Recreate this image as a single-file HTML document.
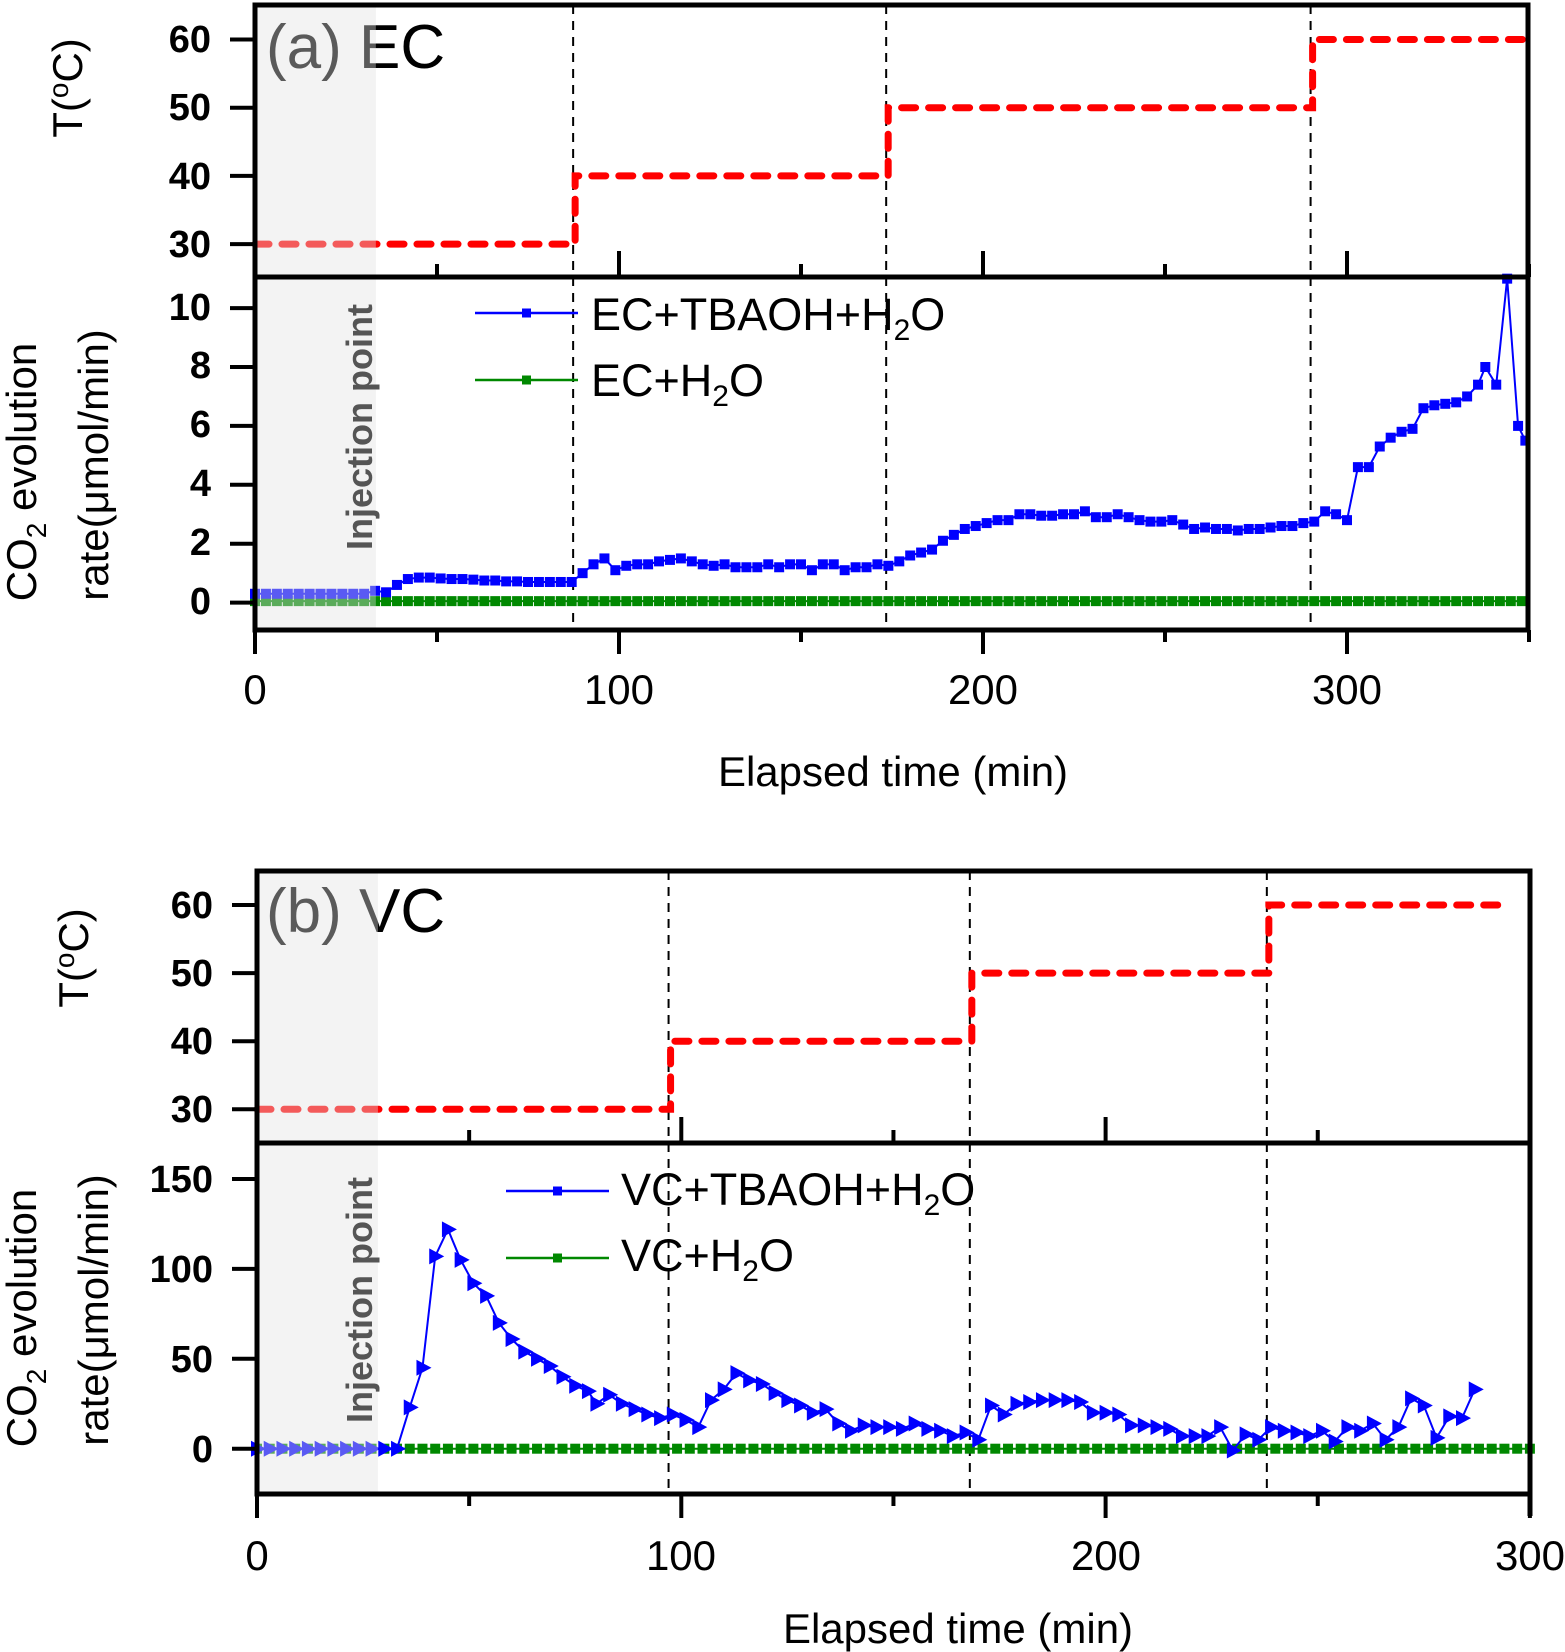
<!DOCTYPE html>
<html><head><meta charset="utf-8"><style>
html,body{margin:0;padding:0;background:#fff;}
svg{display:block;}
text{font-family:"Liberation Sans",Arial,sans-serif;}
.tb{font-weight:bold;font-size:38px;}
.tx{font-size:42px;}
.ax{font-size:42px;}
</style></head><body>
<svg id="s" width="1565" height="1652" viewBox="0 0 1565 1652" xmlns="http://www.w3.org/2000/svg">
<g id="data"></g>
<text x="266" y="68" font-size="62">(a) EC</text>
<g class="tb" text-anchor="end">
<text x="211" y="52">60</text><text x="211" y="120">50</text><text x="211" y="189">40</text><text x="211" y="257">30</text>
<text x="211" y="320">10</text><text x="211" y="378">8</text><text x="211" y="437">6</text><text x="211" y="496">4</text><text x="211" y="555">2</text><text x="211" y="614">0</text>
</g>
<g class="tx" text-anchor="middle">
<text x="255" y="704">0</text><text x="619" y="704">100</text><text x="983" y="704">200</text><text x="1347" y="704">300</text>
</g>
<text class="ax" x="893" y="786" text-anchor="middle">Elapsed time (min)</text>
<text class="ax" transform="translate(82,88) rotate(-90)" text-anchor="middle">T(<tspan font-size="28" dy="-14">o</tspan><tspan dy="14">C)</tspan></text>
<text class="ax" transform="translate(36,472) rotate(-90)" text-anchor="middle">CO<tspan font-size="28" dy="10">2</tspan><tspan dy="-10"> evolution</tspan></text>
<text class="ax" transform="translate(108,465) rotate(-90)" text-anchor="middle">rate(μmol/min)</text>
<text x="591" y="330" font-size="45">EC+TBAOH+H<tspan font-size="30" dy="10">2</tspan><tspan dy="-10">O</tspan></text>
<text x="591" y="396" font-size="45">EC+H<tspan font-size="30" dy="10">2</tspan><tspan dy="-10">O</tspan></text>
<text x="266" y="932" font-size="62">(b) VC</text>
<g class="tb" text-anchor="end">
<text x="213" y="918">60</text><text x="213" y="986">50</text><text x="213" y="1054">40</text><text x="213" y="1122">30</text>
<text x="213" y="1192">150</text><text x="213" y="1282">100</text><text x="213" y="1372">50</text><text x="213" y="1462">0</text>
</g>
<g class="tx" text-anchor="middle">
<text x="257" y="1570">0</text><text x="681" y="1570">100</text><text x="1106" y="1570">200</text><text x="1530" y="1570">300</text>
</g>
<text class="ax" x="958" y="1643" text-anchor="middle">Elapsed time (min)</text>
<text class="ax" transform="translate(88,958) rotate(-90)" text-anchor="middle">T(<tspan font-size="28" dy="-14">o</tspan><tspan dy="14">C)</tspan></text>
<text class="ax" transform="translate(36,1318) rotate(-90)" text-anchor="middle">CO<tspan font-size="28" dy="10">2</tspan><tspan dy="-10"> evolution</tspan></text>
<text class="ax" transform="translate(108,1310) rotate(-90)" text-anchor="middle">rate(μmol/min)</text>
<text x="621" y="1205" font-size="45">VC+TBAOH+H<tspan font-size="30" dy="10">2</tspan><tspan dy="-10">O</tspan></text>
<text x="621" y="1271" font-size="45">VC+H<tspan font-size="30" dy="10">2</tspan><tspan dy="-10">O</tspan></text>
<g id="over"></g>
<text transform="translate(372,427) rotate(-90)" text-anchor="middle" font-size="36" font-weight="bold" fill="#555">Injection point</text>
<text transform="translate(372,1300) rotate(-90)" text-anchor="middle" font-size="36" font-weight="bold" fill="#555">Injection point</text>
</svg>
<script>
var NS="http://www.w3.org/2000/svg";
function el(p,t,a){var e=document.createElementNS(NS,t);for(var k in a)e.setAttribute(k,a[k]);document.getElementById(p).appendChild(e);return e;}
function panel(P){
 var X=function(t){return P.x0+t*P.kx;};
 var YT=function(v){return P.t60+(60-v)*P.kt;};
 var YB=function(v){return P.b0-v*P.kb;};
 P.vl.forEach(function(t){el('data','line',{x1:X(t),x2:X(t),y1:P.top,y2:P.bot-6,stroke:'#000','stroke-width':2,'stroke-dasharray':'9,7'});});
 var d='M'+X(0)+','+YT(30);var temps=[30,40,50,60];
 for(var i=0;i<3;i++){d+=' L'+(X(P.vl[i])+2)+','+YT(temps[i])+' L'+(X(P.vl[i])+2)+','+YT(temps[i+1]);}
 d+=' L'+X(P.tend)+','+YT(60);
 el('data','path',{d:d,fill:'none',stroke:'#f00','stroke-width':7,'stroke-dasharray':'14,13','stroke-linecap':'round'});
 var gp='';for(var t=0;t<=P.gend;t+=P.gstep){gp+=(gp?' L':'M')+X(t)+','+YB(P.gv);}
 el('data','path',{d:gp,fill:'none',stroke:'#080','stroke-width':2});
 for(var t=0;t<=P.gend;t+=P.gstep){el('data','rect',{x:X(t)-5,y:YB(P.gv)-5,width:10,height:10,fill:'#080'});}
 var bp='';P.blue.forEach(function(p){bp+=(bp?' L':'M')+X(p[0])+','+YB(p[1]);});
 el('data','path',{d:bp,fill:'none',stroke:'#00f','stroke-width':2});
 P.blue.forEach(function(p){var x=X(p[0]),y=YB(p[1]);
  if(P.tri)el('data','path',{d:'M'+(x-6)+','+(y-8)+' L'+(x+9)+','+y+' L'+(x-6)+','+(y+8)+'Z',fill:'#00f'});
  else el('data','rect',{x:x-5,y:y-5,width:10,height:10,fill:'#00f'});});
 [[P.lg[0],'#00f'],[P.lg[1],'#080']].forEach(function(l){
  el('over','line',{x1:P.lgx,x2:P.lgx+103,y1:l[0],y2:l[0],stroke:l[1],'stroke-width':2.5});
  el('over','rect',{x:P.lgx+47,y:l[0]-4.5,width:9,height:9,fill:l[1]});});
 el('over','rect',{x:P.x0,y:P.top,width:P.shade*P.kx,height:P.bot-P.top,fill:'#e0e0e0','fill-opacity':0.4});
 var R=P.xR;
 el('over','rect',{x:P.x0,y:P.top,width:R-P.x0,height:P.bot-P.top,fill:'none',stroke:'#000','stroke-width':5});
 el('over','line',{x1:P.x0,x2:R,y1:P.mid,y2:P.mid,stroke:'#000','stroke-width':5});
 if(P.rext)el('over','line',{x1:R,x2:R,y1:P.bot,y2:P.bot+22,stroke:'#000','stroke-width':5});
 for(var t=0;t<=P.xmax;t+=50){var maj=(t%100==0);
  el('over','line',{x1:X(t),x2:X(t),y1:P.mid,y2:P.mid-(maj?26:13),stroke:'#000','stroke-width':4});
  el('over','line',{x1:X(t),x2:X(t),y1:P.bot,y2:P.bot+(maj?24:12),stroke:'#000','stroke-width':4});}
 [30,40,50,60].forEach(function(v){el('over','line',{x1:P.x0-25,x2:P.x0,y1:YT(v),y2:YT(v),stroke:'#000','stroke-width':4});});
 P.yt.forEach(function(v){el('over','line',{x1:P.x0-25,x2:P.x0,y1:YB(v),y2:YB(v),stroke:'#000','stroke-width':4});});
}
var ecB=[[0,.3],[3,.3],[6,.3],[9,.3],[12,.3],[15,.3],[18,.3],[21,.3],[24,.3],[27,.3],[30,.3],[33,.4],[36,.35],[39,.6],[42,.8],[45,.85],[48,.85],[51,.82],[54,.8],[57,.8],[60,.78],[63,.75],[66,.75],[69,.72],[72,.72],[75,.7],[78,.7],[81,.7],[84,.7],[87,.7],[90,1.0],[93,1.3],[96,1.5],[99,1.1],[102,1.25],[105,1.3],[108,1.3],[111,1.4],[114,1.45],[117,1.5],[120,1.4],[123,1.3],[126,1.25],[129,1.3],[132,1.2],[135,1.2],[138,1.2],[141,1.3],[144,1.2],[147,1.3],[150,1.3],[153,1.1],[156,1.3],[159,1.3],[162,1.1],[165,1.2],[168,1.2],[171,1.3],[174,1.25],[177,1.4],[180,1.6],[183,1.7],[186,1.8],[189,2.1],[192,2.3],[195,2.5],[198,2.6],[201,2.7],[204,2.8],[207,2.8],[210,3.0],[213,3.0],[216,2.95],[219,2.95],[222,3.0],[225,3.0],[228,3.1],[231,2.9],[234,2.9],[237,3.0],[240,2.9],[243,2.8],[246,2.75],[249,2.75],[252,2.8],[255,2.65],[258,2.5],[261,2.55],[264,2.5],[267,2.5],[270,2.45],[273,2.5],[276,2.5],[279,2.55],[282,2.6],[285,2.6],[288,2.7],[291,2.75],[294,3.1],[297,3.0],[300,2.8],[303,4.6],[306,4.6],[309,5.3],[312,5.6],[315,5.8],[318,5.9],[321,6.6],[324,6.7],[327,6.75],[330,6.8],[333,7.0],[336,7.4],[338,8.0],[341,7.4],[344,11],[347,6.0],[349,5.5]];
panel({x0:255,kx:3.64,xR:1528,xmax:350,t60:39.5,kt:6.82,b0:602.6,kb:29.45,top:5,mid:277,bot:630,
 vl:[87.4,173.4,290],tend:350,gend:350,gstep:3,gv:0.05,blue:ecB,tri:false,lg:[313,380],lgx:475,shade:33.2,yt:[0,2,4,6,8,10],rext:false});
var vcRaw=[[0,0],[3,0],[6,0],[9,0],[12,0],[15,0],[18,0],[21,0],[24,0],[27,0],[30,0],[33,0],[36,23],[39,45],[42,107],[45,122],[48,105],[51,92],[54,85],[57,70],[60,61],[63,54],[66,50],[69,46],[72,40],[75,35],[78,32],[80,25],[83,30],[86,25],[89,22],[92,19],[95,17],[98,19],[101,16],[104,12],[107,27],[110,33],[113,42],[116,38],[119,36],[122,31],[125,27],[128,24],[131,20],[134,22],[137,14],[140,10],[143,13],[146,12],[149,12],[152,11],[155,14],[158,11],[161,10],[164,7],[167,9],[170,5],[173,24],[176,19],[179,25],[182,26],[185,27],[188,27],[191,27],[194,26],[197,20],[200,20],[203,19],[206,13],[209,13],[212,12],[215,11],[218,7],[221,7],[224,7],[227,12],[230,-1],[233,8],[236,5],[239,12],[242,10],[245,9],[248,7],[251,10],[254,4],[257,12],[260,10],[263,14],[266,5],[269,12],[272,28],[275,24],[278,6],[281,18],[284,17],[287,33]];
panel({x0:257,kx:4.243,xR:1530,xmax:300,t60:905,kt:6.81,b0:1448.7,kb:1.798,top:871,mid:1143,bot:1494,
 vl:[97,168,238],tend:295,gend:300,gstep:3,gv:0,blue:vcRaw,tri:true,lg:[1191,1258],lgx:506,shade:28.5,yt:[0,50,100,150],rext:true});
</script>
</body></html>
